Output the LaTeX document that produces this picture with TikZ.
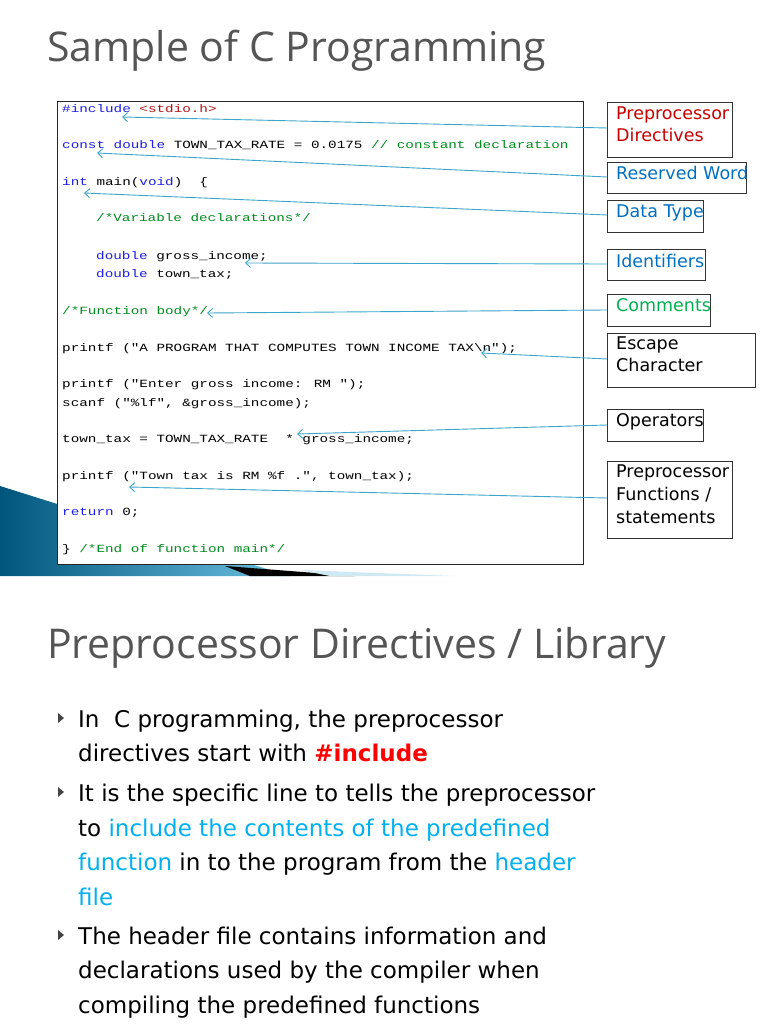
\documentclass[tikz,border=0pt]{standalone}
\usepackage{fontspec}
\setmainfont{DejaVu Sans}
\newfontfamily\codefont[FakeStretch=1.3]{Liberation Mono}
\newfontfamily\titlefont{Open Sans}
\newfontfamily\labfont{DejaVu Sans}
\usetikzlibrary{arrows.meta}
\definecolor{kw}{RGB}{30,30,230}
\definecolor{cm}{RGB}{0,140,30}
\definecolor{inc}{RGB}{180,20,20}
\definecolor{arr}{RGB}{60,165,200}
\definecolor{lred}{RGB}{200,0,0}
\definecolor{lblue}{RGB}{0,112,192}
\definecolor{lgreen}{RGB}{0,176,80}
\definecolor{hl}{RGB}{0,176,240}
\definecolor{ttl}{RGB}{85,85,85}
\definecolor{deep}{RGB}{0,85,125}
\definecolor{pale}{RGB}{110,195,225}
\tikzset{
 codeline/.style={anchor=base west,inner sep=0,font=\codefont\fontsize{11}{11}\selectfont},
 lbox/.style={draw=black!80,line width=0.9pt,anchor=north west,inner sep=0},
 ltext/.style={anchor=north west,inner sep=0,align=left,font=\labfont\fontsize{17.5}{22}\selectfont},
 conn/.style={draw=arr,line width=0.9pt,-{Straight Barb[length=5pt,width=9pt]}},
 ttitle/.style={anchor=base west,inner sep=0,text=ttl,font=\titlefont\fontsize{41}{41}\selectfont},
 btext/.style={anchor=base west,inner sep=0,font=\fontsize{23}{23}\selectfont},
 bul/.style={fill=ttl!80!black,draw=none}
}
\begin{document}
\begin{tikzpicture}[x=1pt,y=-1pt]
\useasboundingbox (0,0) rectangle (768,1024);
% decor
\shade[left color=deep,right color=pale] (0,486) -- (140,530) -- (290,576) -- (0,576) -- cycle;
\fill[black] (225,566) -- (355,576) -- (250,576) -- cycle;
\fill[arr!25] (300,570) -- (455,576) -- (330,576) -- cycle;
% titles
\node[ttitle] (t1) at (47,62) {Sample of C Programming};
\node[ttitle] (t2) at (47,658) {Preprocessor Directives / Library};
% code box
\node[draw=black!85,fill=white,line width=1pt,anchor=north west,minimum width=526,minimum height=463,inner sep=0] (codebox) at (57,101) {};
\node[codeline] (c1) at (62,113) {\textcolor{kw}{\#include} \textcolor{inc}{<stdio.h>}};
\node[codeline] (c2) at (62,149) {\textcolor{kw}{const double} TOWN\_TAX\_RATE = 0.0175 \textcolor{cm}{// constant declaration}};
\node[codeline] (c3) at (62,186) {\textcolor{kw}{int} main(\textcolor{kw}{void})~ \{};
\node[codeline] (c4) at (96,222) {\textcolor{cm}{/*Variable declarations*/}};
\node[codeline] (c5) at (96,259) {\textcolor{kw}{double} gross\_income;};
\node[codeline] (c6) at (96,277) {\textcolor{kw}{double} town\_tax;};
\node[codeline] (c7) at (62,314) {\textcolor{cm}{/*Function body*/}};
\node[codeline] (c8) at (62,351) {printf ("A PROGRAM THAT COMPUTES TOWN INCOME TAX\textbackslash n");};
\node[codeline] (c9) at (62,387) {printf ("Enter gross income: RM ");};
\node[codeline] (c10) at (62,406) {scanf ("\%lf", \&gross\_income);};
\node[codeline] (c11) at (62,442) {town\_tax = TOWN\_TAX\_RATE~ * gross\_income;};
\node[codeline] (c12) at (62,479) {printf ("Town tax is RM \%f .", town\_tax);};
\node[codeline] (c13) at (62,515) {\textcolor{kw}{return} 0;};
\node[codeline] (c14) at (62,552) {\} \textcolor{cm}{/*End of function main*/}};
% targets
\coordinate (p1) at (122,117);
\coordinate (p2) at (97,153);
\coordinate (p3) at (84,193);
\coordinate (p4) at (245,263);
\coordinate (p5) at (207,313);
\coordinate (p6) at (481,353);
\coordinate (p7) at (297,434);
\coordinate (p8) at (129,487);
% label boxes
\node[lbox,minimum width=125,minimum height=55] (b1) at (607,102) {};
\node[lbox,minimum width=139,minimum height=31] (b2) at (607,162) {};
\node[lbox,minimum width=96,minimum height=32] (b3) at (607,200) {};
\node[lbox,minimum width=98,minimum height=31] (b4) at (607,249) {};
\node[lbox,minimum width=103,minimum height=32] (b5) at (607,294) {};
\node[lbox,minimum width=148,minimum height=54] (b6) at (607,333) {};
\node[lbox,minimum width=96,minimum height=32] (b7) at (607,409) {};
\node[lbox,minimum width=125,minimum height=77] (b8) at (607,461) {};
\node[ltext,text=lred] (l1) at (616,107) {Preprocessor\\Directives};
\node[ltext,text=lblue] (l2) at (616,166) {Reserved Word};
\node[ltext,text=lblue] (l3) at (616,205) {Data Type};
\node[ltext,text=lblue] (l4) at (616,254) {Identifiers};
\node[ltext,text=lgreen] (l5) at (616,298) {Comments};
\node[ltext] (l6) at (616,337) {Escape\\Character};
\node[ltext] (l7) at (616,413) {Operators};
\node[ltext,font=\labfont\fontsize{17.5}{23}\selectfont] (l8) at (616,465) {Preprocessor\\Functions /\\statements};
% connectors
\draw[conn] (b1.west |- 0,128) -- (p1);
\draw[conn] (b2.west |- 0,177) -- (p2);
\draw[conn] (b3.west |- 0,215) -- (p3);
\draw[conn] (b4.west |- 0,264) -- (p4);
\draw[conn] (b5.west |- 0,310) -- (p5);
\draw[conn] (b6.west |- 0,359) -- (p6);
\draw[conn] (b7.west |- 0,425) -- (p7);
\draw[conn] (b8.west |- 0,498) -- (p8);
% bullets
\foreach \y in {718,792,935}{\fill[bul] (58,\y-5) -- (64,\y) -- (58,\y+5) -- cycle;}
\node[btext] (s1) at (78,727) {In~ C programming, the preprocessor};
\node[btext] (s2) at (78,761) {directives start with \textcolor{red}{\bfseries\#include}};
\node[btext] (s3) at (78,801) {It is the specific line to tells the preprocessor};
\node[btext] (s4) at (78,836) {to \textcolor{hl}{include the contents of the predefined}};
\node[btext] (s5) at (78,870) {\textcolor{hl}{function} in to the program from the \textcolor{hl}{header}};
\node[btext] (s6) at (78,905) {\textcolor{hl}{file}};
\node[btext] (s7) at (78,944) {The header file contains information and};
\node[btext] (s8) at (78,978) {declarations used by the compiler when};
\node[btext] (s9) at (78,1013) {compiling the predefined functions};
\end{tikzpicture}
\end{document}
